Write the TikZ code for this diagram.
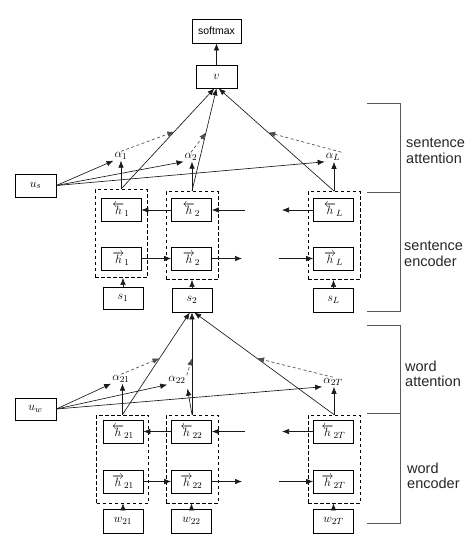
\documentclass[tikz,border=0pt]{standalone}
\usepackage{fontspec}
\newfontfamily\labelfont{Liberation Sans}
\usetikzlibrary{arrows.meta,calc}
\begin{document}
\begin{tikzpicture}[x=1pt,y=-1pt,
  box/.style={draw, line width=0.75pt, minimum width=40pt, minimum height=23pt, inner sep=0pt, font=\fontsize{12.5}{14}\selectfont},
  grp/.style={draw, dash pattern=on 3.5pt off 2.5pt, line width=0.85pt, minimum width=52pt, minimum height=88pt, inner sep=0pt},
  lab/.style={inner sep=1pt, font=\fontsize{13}{15}\selectfont},
  conn/.style={line width=0.65pt, draw=black!90, -{Latex[length=7pt,width=5.5pt]}},
  att/.style={conn, dash pattern=on 3pt off 2.5pt, draw=black!70},
  brk/.style={line width=0.75pt, draw=black!65},
  side/.style={font=\labelfont\fontsize{14.5}{15.5}\selectfont, text=black!85, align=left, anchor=west, inner sep=0pt}
]
\useasboundingbox (0,0) rectangle (474,555);

% ---------- sentence level ----------
\node[box, minimum width=49pt, minimum height=24pt, font=\labelfont\fontsize{10.5}{12}\selectfont] (sm) at (216.5,31) {softmax};
\node[box, minimum width=41pt] (v) at (216.5,76.5) {$v$};
\node[box, minimum width=41pt] (us) at (35.5,185.5) {$u_s$};

\node[grp] (db1) at (121,233.5) {};
\node[grp] (db2) at (192,235.5) {};
\node[grp] (dbL) at (334,235.5) {};

\node[box] (hb1) at (121,210) {$\overleftarrow{h}_1$};
\node[box] (hf1) at (121,258.5) {$\overrightarrow{h}_1$};
\node[box] (hb2) at (191.5,210) {$\overleftarrow{h}_2$};
\node[box] (hf2) at (191.5,258.5) {$\overrightarrow{h}_2$};
\node[box] (hbL) at (333.5,210) {$\overleftarrow{h}_L$};
\node[box] (hfL) at (333.5,258.5) {$\overrightarrow{h}_L$};

\node[box, minimum height=22pt] (s1) at (123,298) {$s_1$};
\node[box, minimum height=24pt] (s2) at (192,300) {$s_2$};
\node[box, minimum height=24pt] (sL) at (333.5,300) {$s_L$};

\node[lab] (a1) at (121,156) {$\alpha_1$};
\node[lab] (a2) at (191,157) {$\alpha_2$};
\node[lab] (aL) at (333,157) {$\alpha_L$};

\draw[conn] (v) -- (sm);
\draw[conn] (db1.north) -- (v.-100);
\draw[conn] (db2.north) -- (v.south);
\draw[conn] (dbL.north) -- (v.-80);
\coordinate (m1) at ($(db1.north)!0.57!(v.-100)$);
\coordinate (m2) at ($(db2.north)!0.57!(v.south)$);
\coordinate (mL) at ($(dbL.north)!0.57!(v.-80)$);
\draw[att] (a1.north) -- (m1);
\draw[att] (a2.north) -- (m2);
\draw[att] (aL.north east) -- (mL);
\draw[conn] (us.east) -- (a1.south west);
\draw[conn] (us.east) -- (a2.south west);
\draw[conn] (us.east) -- (aL.south west);
\draw[conn] (db1.north) -- (db1.north |- a1.south);
\draw[conn] (db2.north) -- (db2.north |- a2.south);
\draw[conn] (dbL.north) -- (dbL.north |- aL.south);

\coordinate (b2in) at (245,210);
\coordinate (bLout) at (282,210);
\coordinate (f2out) at (242,258.5);
\coordinate (fLin) at (279,258.5);
\draw[conn] (hb2) -- (hb1);
\draw[conn] (b2in) -- (hb2);
\draw[conn] (hbL) -- (bLout);
\draw[conn] (hf1) -- (hf2);
\draw[conn] (hf2) -- (f2out);
\draw[conn] (fLin) -- (hfL);
\draw[conn] (s1.north) -- (s1.north |- db1.south);
\draw[conn] (s2.north) -- (s2.north |- db2.south);
\draw[conn] (sL.north) -- (sL.north |- dbL.south);

% ---------- word level ----------
\node[box, minimum width=41pt, minimum height=22pt] (uw) at (35.5,409) {$u_w$};

\node[grp] (db21) at (122.5,459) {};
\node[grp] (db22) at (192,459) {};
\node[grp] (db2T) at (334,459) {};

\node[box] (hb21) at (123,431.5) {$\overleftarrow{h}_{21}$};
\node[box] (hf21) at (123,481.5) {$\overrightarrow{h}_{21}$};
\node[box] (hb22) at (191.5,431.5) {$\overleftarrow{h}_{22}$};
\node[box] (hf22) at (191.5,481.5) {$\overrightarrow{h}_{22}$};
\node[box] (hb2T) at (333.5,431.5) {$\overleftarrow{h}_{2T}$};
\node[box] (hf2T) at (333.5,481.5) {$\overrightarrow{h}_{2T}$};

\node[box, minimum height=24pt] (w21) at (123,521) {$w_{21}$};
\node[box, minimum height=24pt] (w22) at (191.5,521) {$w_{22}$};
\node[box, minimum height=24pt] (w2T) at (333.5,521) {$w_{2T}$};

\node[lab] (a21) at (121,379) {$\alpha_{21}$};
\node[lab] (a22) at (177,380) {$\alpha_{22}$};
\node[lab] (a2T) at (333,382) {$\alpha_{2T}$};

\draw[conn] (db21.north) -- (s2.-100);
\draw[conn] (db22.north) -- (s2.south);
\draw[conn] (db2T.north) -- (s2.-80);
\coordinate (m21) at ($(db21.north)!0.55!(s2.-100)$);
\coordinate (m22) at ($(db22.north)!0.55!(s2.south)$);
\coordinate (m2T) at ($(db2T.north)!0.55!(s2.-80)$);
\draw[att] (a21.north) -- (m21);
\draw[att] (a22.north east) -- (m22);
\draw[att] (a2T.north) -- (m2T);
\draw[conn] (uw.east) -- (a21.south west);
\draw[conn] (uw.east) -- (a22.south west);
\draw[conn] (uw.east) -- (a2T.south west);
\draw[conn] (db21.north) -- (db21.north |- a21.south);
\draw[conn, shorten >=4pt] (db22.north) -- (a22.south east);
\draw[conn] (db2T.north) -- (db2T.north |- a2T.south);

\coordinate (b22in) at (245,431.5);
\coordinate (b2Tout) at (282,431.5);
\coordinate (f22out) at (242,481.5);
\coordinate (f2Tin) at (279,481.5);
\draw[conn] (hb22) -- (hb21);
\draw[conn] (b22in) -- (hb22);
\draw[conn] (hb2T) -- (b2Tout);
\draw[conn] (hf21) -- (hf22);
\draw[conn] (hf22) -- (f22out);
\draw[conn] (f2Tin) -- (hf2T);
\draw[conn] (w21.north) -- (w21.north |- db21.south);
\draw[conn] (w22.north) -- (w22.north |- db22.south);
\draw[conn] (w2T.north) -- (w2T.north |- db2T.south);

% ---------- brackets ----------
\draw[brk] (367,103) -- (400,103) -- (400,311) -- (367,311);
\draw[brk] (367,192) -- (400,192);
\draw[brk] (367,325) -- (400,325) -- (400,523) -- (367,523);
\draw[brk] (367,413) -- (400,413);

\node[side] (sa) at (406,151) {sentence\\attention};
\node[side] (se) at (404,254) {sentence\\encoder};
\node[side] (wa) at (405,374) {word\\attention};
\node[side] (we) at (407,476) {word\\encoder};
\end{tikzpicture}
\end{document}
